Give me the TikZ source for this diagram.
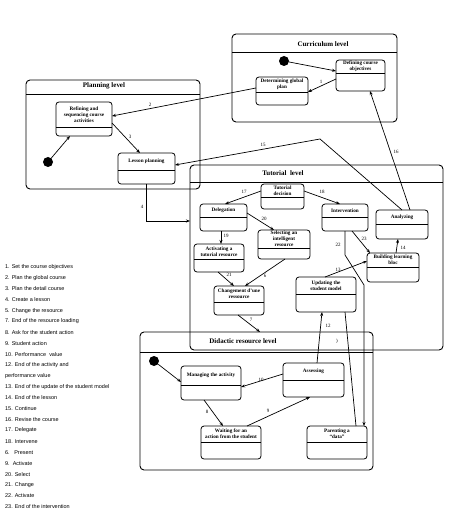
\documentclass[tikz,border=0pt]{standalone}
\usepackage{fontspec}
\setmainfont{Liberation Serif}
\newfontfamily\legfont{Liberation Sans}
\usetikzlibrary{arrows.meta}
\tikzset{
 stbox/.style={draw, rounded corners=3bp, line width=0.8bp, inner sep=0pt, outer sep=0pt},
 pkgbox/.style={draw, rounded corners=4bp, line width=0.9bp, inner sep=0pt, outer sep=0pt},
 sttext/.style={font=\fontsize{5.2}{5.9}\selectfont\bfseries, align=center, inner sep=0pt},
 pkgtitle/.style={font=\fontsize{7}{8}\selectfont\bfseries, inner sep=0pt},
 arr/.style={-{Stealth[length=4bp,width=3bp]}, line width=0.7bp},
 lnk/.style={line width=0.7bp},
 elab/.style={font=\fontsize{5}{5.5}\selectfont, inner sep=0pt},
 initdot/.style={circle, fill=black, minimum size=10bp, inner sep=0pt, outer sep=0pt},
 legtext/.style={font=\legfont\fontsize{5.5}{6.5}\selectfont, anchor=west, inner sep=0pt},
}
\newcommand\umlstate[7]{%
 \node[stbox, minimum width={(#4-#2)*1bp}, minimum height={(#5-#3)*1bp}] (#1) at ({(#2+#4)/2},{(#3+#5)/2}) {};
 \draw[line width=0.8bp] (#1.west|-0,#6) -- (#1.east|-0,#6);
 \node[sttext] (#1-t) at ({(#2+#4)/2},{(#3+#6)/2}) {#7};}
\newcommand\umlpkg[6]{%
 \node[pkgbox, minimum width={(#4-#2)*1bp}, minimum height={(#5-#3)*1bp}] (#1) at ({(#2+#4)/2},{(#3+#5)/2}) {};
 \draw[line width=0.9bp] (#1.west|-0,#6) -- (#1.east|-0,#6);}
\begin{document}
\begin{tikzpicture}[x=1bp,y=-1bp]
\fill[white] (0,0) rectangle (474,516);
\useasboundingbox (0,0) rectangle (474,516);

% packages
\umlpkg{cur}{232}{34}{397}{122}{52}
\node[pkgtitle] (cur-t) at (323,44) {Curriculum level};
\umlpkg{pln}{26}{80}{200}{189}{94}
\node[pkgtitle] (pln-t) at (104,86) {Planning level};
\umlpkg{tut}{190}{165}{443}{350}{182}
\node[pkgtitle] (tut-t) at (283,173) {Tutorial\ \ level};
\umlpkg{did}{140}{332}{373}{470}{352}
\node[pkgtitle] (did-t) at (243,341) {Didactic resource level};
\node[elab] (paren) at (337,341) {)};

% curriculum states
\node[initdot] (dotC) at (284,61) {};
\umlstate{def}{336}{60}{385}{91}{73}{Defining course\\objectives}
\umlstate{det}{256}{77}{308}{105}{92}{Determining global\\plan}

% planning states
\node[initdot] (dotP) at (48,162) {};
\umlstate{ref}{56}{102}{112}{136}{127}{Refining and\\sequencing course\\activities}
\umlstate{lp}{118}{153}{175}{184}{170}{Lesson planning}

% tutorial states
\umlstate{td}{261}{184}{304}{209}{197}{Tutorial\\decision}
\umlstate{del}{200}{204}{247}{231}{217}{Delegation}
\umlstate{int}{322}{204}{368}{231}{217}{Intervention}
\umlstate{ana}{376}{210}{428}{239}{224}{Analyzing}
\umlstate{act}{194}{244}{244}{272}{259}{Activating a\\tutorial resource}
\umlstate{sel}{258}{230}{310}{259}{248}{Selecting an\\intelligent\\resource}
\umlstate{bld}{367}{253}{419}{282}{267}{Building learning\\bloc}
\umlstate{chg}{214}{286}{264}{315}{302}{Changement d'une\\ressource}
\umlstate{upd}{296}{277}{356}{312}{294}{Updating the\\student model}

% didactic states
\node[initdot] (dotD) at (154,361) {};
\umlstate{mng}{181}{366}{241}{400}{385}{Managing the activity}
\umlstate{ass}{283}{363}{344}{397}{380}{Assessing}
\umlstate{wait}{201}{426}{261}{459}{442}{Waiting for an\\action from the student}
\umlstate{par}{307}{426}{367}{459}{442}{Parenting a\\``data''}

% connectors: curriculum
\draw[arr] (dotC) -- (def.west|-0,71);
\draw[arr] (def.west|-0,79) -- (det.east|-0,92);
\node[elab] (l1) at (321,82) {1};
\draw[arr] (det.west|-0,88) -- (ref.east|-0,116);
\node[elab] (l2) at (150,105) {2};
% planning
\draw[arr] (dotP) -- (ref.south-|70,0);
\draw[arr] (ref.east|-0,123) -- (lp.north-|140,0);
\node[elab] (l3) at (130,137) {3};
\draw[arr] (lp.south-|146,0) -- (146,221) -- (tut.west|-0,221);
\node[elab] (l4) at (142,207) {4};
\draw[arr] (ana.north-|402,0) -- (320,139) -- (lp.east|-0,165);
\node[elab] (l15) at (263,145) {15};
\draw[arr] (ana.north-|410,0) -- (def.south-|370,0);
\node[elab] (l16) at (396,152) {16};
% tutorial
\draw[arr] (td.west|-0,191) -- (del.north-|225,0);
\node[elab] (l17) at (244,192) {17};
\draw[arr] (td.east|-0,191) -- (int.north-|340,0);
\node[elab] (l18) at (322,192) {18};
\draw[arr] (del.south-|221,0) -- (act.north-|221,0);
\node[elab] (l19) at (226,236) {19};
\draw[arr] (del.east|-0,213) -- (sel.north-|274,0);
\node[elab] (l20) at (264,219) {20};
\draw[arr] (act.south-|218,0) -- (chg.north-|234,0);
\node[elab] (l21) at (229,275) {21};
\draw[arr] (sel.south-|285,0) -- (chg.north-|245,0);
\node[elab] (l6) at (265,276) {6};
\draw[arr] (int.south-|345,0) -- (345,255) -- (364,285) -- (par.north-|364,0);
\node[elab] (l22) at (338,245) {22};
\draw[arr] (int.south-|352,0) -- (bld.north-|370,0);
\node[elab] (l23) at (364,239) {23};
\draw[arr] (bld.north-|396,0) -- (ana.south-|398,0);
\node[elab] (l14) at (403,248) {14};
\draw[arr] (upd.north-|325,0) -- (bld.west|-0,261);
\node[elab] (l13) at (338,270) {13};
\draw[arr] (chg.south-|238,0) -- (did.north-|260,0);
\node[elab] (l7) at (251,320) {7};
\draw[arr] (ass.north-|317,0) -- (upd.south-|322,0);
\node[elab] (l12) at (328,326) {12};
\draw[lnk] (par.north-|356,0) -- (upd.south-|345,0);
% didactic
\draw[arr] (dotD) -- (mng.west|-0,382);
\draw[arr] (mng.south-|204,0) -- (wait.north-|223,0);
\node[elab] (l8) at (207,412) {8};
\draw[arr] (wait.north-|247,0) -- (ass.south-|310,0);
\node[elab] (l9) at (268,411) {9};
\draw[arr] (ass.west|-0,374) -- (mng.east|-0,387);
\node[elab] (l10) at (261,380) {10};

% legend
\foreach \i/\t in {0/{1. Set the course objectives},1/{2. Plan the global course},2/{3. Plan the detail course},3/{4. Create a lesson},4/{5. Change the resource},5/{7. End of the resource loading},6/{8. Ask for the student action},7/{9. Student action},8/{10. Performance\ \ value},9/{12. End of the activity and},10/{performance value},11/{13. End of the update of the student model},12/{14. End of the lesson},13/{15. Continue},14/{16. Revise the course},15/{17. Delegate},16/{18. Intervene},17/{6.\ \ \ Present},18/{9.\ \ Activate},19/{20. Select},20/{21. Change},21/{22. Activate},22/{23. End of the intervention}}
  \node[legtext] (leg\i) at (5,{267+10.9*\i}) {\t};
\end{tikzpicture}
\end{document}
